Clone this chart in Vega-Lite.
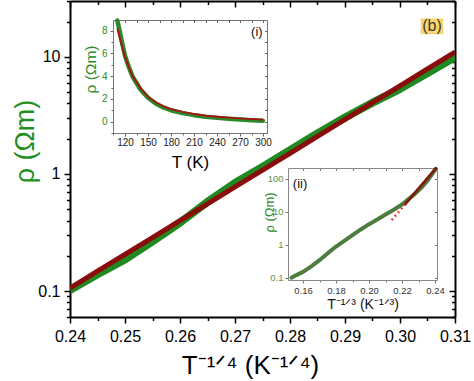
{
  "$schema": "https://vega.github.io/schema/vega-lite/v6.json",
  "width": 385,
  "height": 316,
  "autosize": {"type": "none"},
  "padding": {"left": 70, "top": 1, "right": 19, "bottom": 64},
  "background": "white",
  "config": {
    "view": {"stroke": null},
    "axis": {"grid": false, "labelFont": "Liberation Sans", "titleFont": "Liberation Sans", "titleFontWeight": "normal", "labelFlush": false, "labelOverlap": false}
  },
  "datasets": {
    "mainG": [
      {"x": 0.240, "y": 0.102}, {"x": 0.245, "y": 0.139}, {"x": 0.250, "y": 0.186}, {"x": 0.255, "y": 0.265},
      {"x": 0.260, "y": 0.384}, {"x": 0.265, "y": 0.578}, {"x": 0.270, "y": 0.838}, {"x": 0.275, "y": 1.15},
      {"x": 0.280, "y": 1.60}, {"x": 0.285, "y": 2.22}, {"x": 0.290, "y": 3.03}, {"x": 0.295, "y": 4.06},
      {"x": 0.300, "y": 5.33}, {"x": 0.305, "y": 7.29}, {"x": 0.310, "y": 9.95}
    ],
    "mainR": [
      {"x": 0.240, "y": 0.106}, {"x": 0.245, "y": 0.148}, {"x": 0.250, "y": 0.206}, {"x": 0.255, "y": 0.286},
      {"x": 0.260, "y": 0.399}, {"x": 0.265, "y": 0.556}, {"x": 0.270, "y": 0.774}, {"x": 0.275, "y": 1.08},
      {"x": 0.280, "y": 1.50}, {"x": 0.285, "y": 2.09}, {"x": 0.290, "y": 2.92}, {"x": 0.295, "y": 4.06},
      {"x": 0.300, "y": 5.66}, {"x": 0.305, "y": 7.89}, {"x": 0.310, "y": 11.0}
    ],
    "badge": [{"x": 0.30376, "x2": 0.30787, "y": 15.6, "y2": 21.3, "xc": 0.30582, "yc": 18.3, "t": "(b)"}],
    "in1G": [
      {"t": 110, "r": 8.9}, {"t": 113, "r": 8.0}, {"t": 116, "r": 7.0}, {"t": 120, "r": 5.8}, {"t": 125, "r": 4.8},
      {"t": 130, "r": 3.95}, {"t": 140, "r": 2.85}, {"t": 150, "r": 2.1}, {"t": 160, "r": 1.6}, {"t": 170, "r": 1.25},
      {"t": 180, "r": 1.0}, {"t": 195, "r": 0.75}, {"t": 210, "r": 0.57}, {"t": 225, "r": 0.43}, {"t": 240, "r": 0.33},
      {"t": 255, "r": 0.25}, {"t": 270, "r": 0.18}, {"t": 285, "r": 0.12}, {"t": 300, "r": 0.08}
    ],
    "in1R": [
      {"t": 110, "r": 8.2}, {"t": 115, "r": 6.9}, {"t": 120, "r": 5.7}, {"t": 125, "r": 4.8}, {"t": 130, "r": 4.0},
      {"t": 140, "r": 2.95}, {"t": 150, "r": 2.2}, {"t": 160, "r": 1.7}, {"t": 170, "r": 1.35}, {"t": 180, "r": 1.1},
      {"t": 195, "r": 0.85}, {"t": 210, "r": 0.67}, {"t": 225, "r": 0.53}, {"t": 240, "r": 0.43}, {"t": 255, "r": 0.35},
      {"t": 270, "r": 0.28}, {"t": 285, "r": 0.22}, {"t": 300, "r": 0.17}
    ],
    "in1Lab": [{"t": 292, "r": 7.9, "s": "(i)"}],
    "in2G": [
      {"x": 0.153, "y": 0.1}, {"x": 0.156, "y": 0.12}, {"x": 0.16, "y": 0.15}, {"x": 0.165, "y": 0.22},
      {"x": 0.17, "y": 0.34}, {"x": 0.175, "y": 0.55}, {"x": 0.18, "y": 0.88}, {"x": 0.185, "y": 1.3},
      {"x": 0.19, "y": 1.95}, {"x": 0.195, "y": 2.9}, {"x": 0.2, "y": 4.2}, {"x": 0.205, "y": 5.8},
      {"x": 0.21, "y": 8.2}, {"x": 0.215, "y": 11.5}, {"x": 0.22, "y": 16.5}, {"x": 0.223, "y": 22},
      {"x": 0.227, "y": 32}, {"x": 0.232, "y": 55}, {"x": 0.236, "y": 95}, {"x": 0.2405, "y": 200}
    ],
    "in2Rdot": [{"x": 0.2138, "y": 5.6}, {"x": 0.2405, "y": 205}],
    "in2Rsolid": [{"x": 0.2222, "y": 17.5}, {"x": 0.2405, "y": 205}],
    "in2Lab": [{"x": 0.1582, "y": 69, "s": "(ii)"}]
  },
  "resolve": {"scale": {"x": "independent", "y": "independent"}, "axis": {"x": "independent", "y": "independent"}},
  "layer": [
    {
      "data": {"name": "mainG"},
      "mark": {"type": "line", "color": "#1f8a1f", "strokeWidth": 8, "strokeCap": "butt", "strokeJoin": "round", "clip": true},
      "encoding": {
        "x": {"field": "x", "type": "quantitative",
          "scale": {"domain": [0.24, 0.31], "nice": false, "zero": false},
          "axis": {"orient": "bottom",
            "values": [0.24, 0.245, 0.25, 0.255, 0.26, 0.265, 0.27, 0.275, 0.28, 0.285, 0.29, 0.295, 0.3, 0.305, 0.31],
            "labelExpr": "abs(datum.value*100 - round(datum.value*100)) < 0.001 ? format(datum.value, '.2f') : ''",
            "tickSize": {"condition": {"test": "abs(datum.value*100 - round(datum.value*100)) < 0.001", "value": 6}, "value": 3.5},
            "tickColor": "#000", "tickWidth": 1.5, "domainColor": "#000", "domainWidth": 2,
            "labelFontSize": 16, "labelColor": "#000", "labelPadding": 5,
            "title": "T⁻¹ᐟ⁴ (K⁻¹ᐟ⁴)", "titleFontSize": 26, "titleColor": "#000",
            "titleX": 180, "titleY": 56, "titleBaseline": "alphabetic", "titleAlign": "center"}},
        "y": {"field": "y", "type": "quantitative",
          "scale": {"type": "log", "domain": [0.06, 30], "nice": false},
          "axis": {"orient": "left",
            "values": [0.06, 0.07, 0.08, 0.09, 0.1, 0.2, 0.3, 0.4, 0.5, 0.6, 0.7, 0.8, 0.9, 1, 2, 3, 4, 5, 6, 7, 8, 9, 10, 20, 30],
            "labelExpr": "abs(log(datum.value)/LN10 - round(log(datum.value)/LN10)) < 0.001 ? format(datum.value, '~g') : ''",
            "tickSize": {"condition": {"test": "abs(log(datum.value)/LN10 - round(log(datum.value)/LN10)) < 0.001", "value": 6}, "value": 3.5},
            "tickColor": "#000", "tickWidth": 1.5, "domainColor": "#000", "domainWidth": 2,
            "labelFontSize": 16, "labelColor": "#000", "labelPadding": 4,
            "title": "ρ (Ωm)", "titleFontSize": 27, "titleColor": "#1f8f1f",
            "titleX": -45, "titleY": 140, "titleBaseline": "middle", "titleAlign": "center", "titleAngle": -90}}
      }
    },
    {
      "data": {"name": "mainR"},
      "mark": {"type": "line", "color": "#8b0c0c", "strokeWidth": 5, "strokeCap": "butt", "strokeJoin": "round", "clip": true},
      "encoding": {
        "x": {"field": "x", "type": "quantitative",
          "scale": {"domain": [0.24, 0.31], "nice": false, "zero": false},
          "axis": {"orient": "top", "labels": false, "title": null,
            "values": [0.24, 0.245, 0.25, 0.255, 0.26, 0.265, 0.27, 0.275, 0.28, 0.285, 0.29, 0.295, 0.3, 0.305, 0.31],
            "tickSize": {"condition": {"test": "abs(datum.value*100 - round(datum.value*100)) < 0.001", "value": -6}, "value": -3.5},
            "tickColor": "#000", "tickWidth": 1.5, "domainColor": "#000", "domainWidth": 2}},
        "y": {"field": "y", "type": "quantitative",
          "scale": {"type": "log", "domain": [0.06, 30], "nice": false},
          "axis": {"orient": "right", "labels": false, "title": null,
            "values": [0.06, 0.07, 0.08, 0.09, 0.1, 0.2, 0.3, 0.4, 0.5, 0.6, 0.7, 0.8, 0.9, 1, 2, 3, 4, 5, 6, 7, 8, 9, 10, 20, 30],
            "tickSize": {"condition": {"test": "abs(log(datum.value)/LN10 - round(log(datum.value)/LN10)) < 0.001", "value": -6}, "value": -3.5},
            "tickColor": "#000", "tickWidth": 1.5, "domainColor": "#000", "domainWidth": 2}}
      }
    },
    {
      "data": {"name": "badge"},
      "mark": {"type": "rect", "color": "#f8d66d"},
      "encoding": {
        "x": {"field": "x", "type": "quantitative", "scale": {"domain": [0.24, 0.31], "nice": false, "zero": false}, "axis": null},
        "x2": {"field": "x2"},
        "y": {"field": "y", "type": "quantitative", "scale": {"type": "log", "domain": [0.06, 30], "nice": false}, "axis": null},
        "y2": {"field": "y2"}
      }
    },
    {
      "data": {"name": "badge"},
      "mark": {"type": "text", "font": "Liberation Sans", "fontSize": 16, "color": "#3a3a3a", "align": "center", "baseline": "middle"},
      "encoding": {
        "x": {"field": "xc", "type": "quantitative", "scale": {"domain": [0.24, 0.31], "nice": false, "zero": false}, "axis": null},
        "y": {"field": "yc", "type": "quantitative", "scale": {"type": "log", "domain": [0.06, 30], "nice": false}, "axis": null},
        "text": {"field": "t"}
      }
    },
    {
      "data": {"name": "in1G"},
      "mark": {"type": "line", "color": "#2a8a2a", "strokeWidth": 4.5, "strokeCap": "round", "strokeJoin": "round"},
      "encoding": {
        "x": {"field": "t", "type": "quantitative",
          "scale": {"domain": [104.35, 305.2], "range": [43, 197], "nice": false, "zero": false},
          "axis": {"orient": "bottom", "offset": -184,
            "values": [105, 120, 135, 150, 165, 180, 195, 210, 225, 240, 255, 270, 285, 300],
            "labelExpr": "(datum.value - 120) % 30 == 0 ? datum.label : ''",
            "tickSize": {"condition": {"test": "(datum.value - 120) % 30 == 0", "value": 3}, "value": 2},
            "tickColor": "#666", "tickWidth": 1, "domainColor": "#777", "domainWidth": 1,
            "labelFontSize": 10, "labelColor": "#222", "labelPadding": 1,
            "title": "T (K)", "titleFontSize": 17, "titleColor": "#000",
            "titleY": 34, "titleBaseline": "alphabetic"}},
        "y": {"field": "r", "type": "quantitative",
          "scale": {"domain": [-1, 8.94], "range": [132, 19], "nice": false, "zero": false},
          "axis": {"orient": "left", "offset": -43,
            "values": [-1, 0, 1, 2, 3, 4, 5, 6, 7, 8],
            "labelExpr": "datum.value % 2 == 0 ? datum.label : ''",
            "tickSize": {"condition": {"test": "datum.value % 2 == 0", "value": 3}, "value": 2},
            "tickColor": "#666", "tickWidth": 1, "domainColor": "#777", "domainWidth": 1,
            "labelFontSize": 10, "labelColor": "#2a8a2a", "labelPadding": 3,
            "title": "ρ (Ωm)", "titleFontSize": 15.5, "titleColor": "#2a8a2a",
            "titleX": -23, "titleY": 68, "titleBaseline": "middle", "titleAlign": "center", "titleAngle": -90}}
      }
    },
    {
      "data": {"name": "in1R"},
      "mark": {"type": "line", "color": "#a81212", "strokeWidth": 1.8, "strokeJoin": "round"},
      "encoding": {
        "x": {"field": "t", "type": "quantitative",
          "scale": {"domain": [104.35, 305.2], "range": [43, 197], "nice": false, "zero": false},
          "axis": {"orient": "top", "offset": -19, "labels": false, "title": null,
            "values": [105, 120, 135, 150, 165, 180, 195, 210, 225, 240, 255, 270, 285, 300],
            "tickSize": -2.5, "tickColor": "#666", "tickWidth": 1, "domainColor": "#777", "domainWidth": 1}},
        "y": {"field": "r", "type": "quantitative",
          "scale": {"domain": [-1, 8.94], "range": [132, 19], "nice": false, "zero": false},
          "axis": {"orient": "right", "offset": -188, "labels": false, "title": null,
            "values": [-1, 0, 1, 2, 3, 4, 5, 6, 7, 8],
            "tickSize": -2.5, "tickColor": "#666", "tickWidth": 1, "domainColor": "#777", "domainWidth": 1}}
      }
    },
    {
      "data": {"name": "in1Lab"},
      "mark": {"type": "text", "font": "Liberation Sans", "fontSize": 13, "color": "#111", "align": "center", "baseline": "middle"},
      "encoding": {
        "x": {"field": "t", "type": "quantitative", "scale": {"domain": [104.35, 305.2], "range": [43, 197], "nice": false, "zero": false}, "axis": null},
        "y": {"field": "r", "type": "quantitative", "scale": {"domain": [-1, 8.94], "range": [132, 19], "nice": false, "zero": false}, "axis": null},
        "text": {"field": "s"}
      }
    },
    {
      "data": {"name": "in2G"},
      "mark": {"type": "line", "color": "#4d7d3c", "strokeWidth": 4, "strokeCap": "round", "strokeJoin": "round"},
      "encoding": {
        "x": {"field": "x", "type": "quantitative",
          "scale": {"domain": [0.1509, 0.2412], "range": [218, 367], "nice": false, "zero": false},
          "axis": {"orient": "bottom", "offset": -37,
            "values": [0.16, 0.17, 0.18, 0.19, 0.2, 0.21, 0.22, 0.23, 0.24],
            "labelExpr": "round(datum.value*100) % 2 == 0 ? format(datum.value, '.2f') : ''",
            "tickSize": {"condition": {"test": "round(datum.value*100) % 2 == 0", "value": 3}, "value": 2},
            "tickColor": "#777", "tickWidth": 1, "domainColor": "#888", "domainWidth": 1,
            "labelFontSize": 9.5, "labelColor": "#333", "labelPadding": 2,
            "title": "T⁻¹ᐟ³ (K⁻¹ᐟ³)", "titleFontSize": 14, "titleColor": "#111",
            "titleY": 28, "titleBaseline": "alphabetic"}},
        "y": {"field": "y", "type": "quantitative",
          "scale": {"type": "log", "domain": [0.0852, 211], "range": [279, 167], "nice": false},
          "axis": {"orient": "left", "offset": -218,
            "values": [0.1, 1, 10, 100],
            "labelExpr": "format(datum.value, '~g')",
            "tickSize": 3, "tickColor": "#777", "tickWidth": 1, "domainColor": "#888", "domainWidth": 1,
            "labelFontSize": 9.5, "labelColor": "#5e8f4e", "labelPadding": 2,
            "title": "ρ (Ωm)", "titleFontSize": 13, "titleColor": "#2a8a2a",
            "titleX": -19, "titleY": 211, "titleBaseline": "middle", "titleAlign": "center", "titleAngle": -90}}
      }
    },
    {
      "data": {"name": "in2Rdot"},
      "mark": {"type": "line", "color": "#e8231e", "strokeWidth": 2.4, "strokeDash": [1.6, 3.2]},
      "encoding": {
        "x": {"field": "x", "type": "quantitative",
          "scale": {"domain": [0.1509, 0.2412], "range": [218, 367], "nice": false, "zero": false},
          "axis": {"orient": "top", "offset": -167, "labels": false, "title": null,
            "values": [0.16, 0.17, 0.18, 0.19, 0.2, 0.21, 0.22, 0.23, 0.24],
            "tickSize": -2.5, "tickColor": "#777", "tickWidth": 1, "domainColor": "#888", "domainWidth": 1}},
        "y": {"field": "y", "type": "quantitative",
          "scale": {"type": "log", "domain": [0.0852, 211], "range": [279, 167], "nice": false},
          "axis": {"orient": "right", "offset": -18, "labels": false, "title": null,
            "values": [0.1, 1, 10, 100],
            "tickSize": -2.5, "tickColor": "#777", "tickWidth": 1, "domainColor": "#888", "domainWidth": 1}}
      }
    },
    {
      "data": {"name": "in2Rsolid"},
      "mark": {"type": "line", "color": "#7e1c0e", "strokeWidth": 2.8, "strokeCap": "round"},
      "encoding": {
        "x": {"field": "x", "type": "quantitative", "scale": {"domain": [0.1509, 0.2412], "range": [218, 367], "nice": false, "zero": false}, "axis": null},
        "y": {"field": "y", "type": "quantitative", "scale": {"type": "log", "domain": [0.0852, 211], "range": [279, 167], "nice": false}, "axis": null}
      }
    },
    {
      "data": {"name": "in2Lab"},
      "mark": {"type": "text", "font": "Liberation Sans", "fontSize": 13, "color": "#111", "align": "center", "baseline": "middle"},
      "encoding": {
        "x": {"field": "x", "type": "quantitative", "scale": {"domain": [0.1509, 0.2412], "range": [218, 367], "nice": false, "zero": false}, "axis": null},
        "y": {"field": "y", "type": "quantitative", "scale": {"type": "log", "domain": [0.0852, 211], "range": [279, 167], "nice": false}, "axis": null},
        "text": {"field": "s"}
      }
    }
  ]
}
